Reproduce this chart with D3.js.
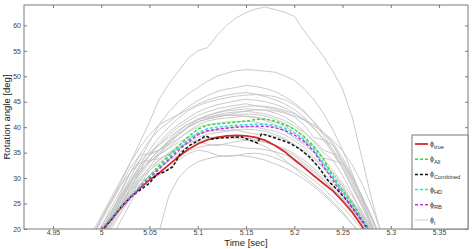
<!DOCTYPE html>
<html>
<head>
<meta charset="utf-8">
<script src="https://cdn.jsdelivr.net/npm/d3@7"></script>
<style>
  body { margin: 0; background: #fff; }
  svg { display: block; font-family: "Liberation Sans", Arial, sans-serif; }
</style>
</head>
<body>
<svg id="chart" width="474" height="249"></svg>
<script>
// common time grid for most series
var times = [4.99, 5.00, 5.01, 5.02, 5.03, 5.04, 5.05, 5.06, 5.07, 5.08, 5.09, 5.10, 5.11, 5.12, 5.13, 5.14,
             5.15, 5.16, 5.17, 5.18, 5.19, 5.20, 5.21, 5.22, 5.23, 5.24, 5.25, 5.26, 5.27, 5.28, 5.29, 5.30];

var phiTrue = [17.5, 19.6, 21.8, 24.1, 26.2, 28.0, 29.6, 31.0, 32.6, 34.2, 35.6, 36.7, 37.5, 38.0, 38.3, 38.4,
               38.3, 38.0, 37.4, 36.4, 35.2, 33.6, 32.1, 30.5, 29.0, 27.5, 25.5, 23.3, 20.6, 17.5, 14, 11];
var phiAll = [17.6, 19.8, 22.0, 24.3, 26.3, 28.3, 30.4, 32.5, 34.4, 36.3, 38.1, 39.6, 40.4, 40.6, 40.8, 41.0,
              41.2, 41.5, 41.6, 41.2, 40.5, 39.6, 38.2, 36.3, 33.8, 30.4, 27.6, 25.0, 22.0, 19.2, 15.5, 12];
var phiHD = [17.6, 19.8, 22.0, 24.2, 26.2, 28.2, 30.1, 32.1, 34.0, 35.8, 37.5, 38.9, 39.7, 40.0, 40.2, 40.4,
             40.5, 40.6, 40.6, 40.3, 39.8, 38.9, 37.6, 35.7, 32.9, 30.0, 27.2, 24.6, 21.9, 18.8, 15.3, 12];
var phiRB = [17.5, 19.7, 21.8, 24.0, 26.0, 28.0, 29.9, 31.8, 33.6, 35.4, 37.1, 38.5, 39.3, 39.6, 39.8, 40.0,
             40.1, 40.2, 40.2, 39.9, 39.4, 38.5, 37.2, 35.3, 32.4, 29.6, 26.8, 24.3, 21.6, 18.5, 15, 12];

// the combined estimate has its own (irregular) time stamps
var combinedT = [4.99, 5.00, 5.01, 5.02, 5.03, 5.04, 5.05, 5.058, 5.065, 5.074, 5.082, 5.092, 5.100, 5.108, 5.115,
                 5.125, 5.135, 5.145, 5.155, 5.162, 5.166, 5.175, 5.186, 5.195, 5.205, 5.215, 5.225, 5.235, 5.245,
                 5.255, 5.265, 5.275, 5.285];
var combinedV = [17.3, 19.5, 21.7, 24.2, 26.2, 27.6, 29.0, 30.8, 31.2, 32.2, 34.8, 36.5, 37.3, 38.3, 37.7,
                 37.9, 38.0, 38.1, 37.4, 36.9, 38.7, 38.2, 37.5, 36.9, 35.8, 34.3, 32.2, 29.5, 27.6,
                 25.5, 23.0, 20.4, 17.5];

// individual estimates phi_i
var phiI = [
  [18, 22, 25.5, 29, 33, 37, 41, 45.5, 48.5, 51, 53.5, 55, 55.6, 58, 60, 61.5, 62.5, 63.2, 63.6, 63.1, 62.6, 61.8, 59, 56.5, 54, 51, 47.5, 42, 34, 26, 19, 12],
  [17, 20, 23, 26.5, 30, 33.5, 37, 40.5, 43, 45, 46.5, 47.8, 49, 50, 50.6, 51.1, 51.3, 51.2, 51, 50.8, 50.1, 49.2, 47.6, 45.5, 42.8, 39.5, 35.5, 31, 26, 21, 16, 11],
  [16, 19.5, 23, 27, 31, 34.5, 37.5, 39.5, 41, 42.5, 44, 45.2, 46.2, 47, 47.5, 47.8, 48.2, 48.0, 47.6, 47, 46, 44.8, 43.2, 41, 38.5, 35.5, 32, 28.5, 24.5, 20.5, 16, 12],
  [19, 22.5, 26, 29.5, 33, 36, 38.5, 40.5, 41.5, 42.5, 43.5, 44.5, 45.3, 45.9, 46.3, 46.6, 46.8, 46.5, 46.0, 45.4, 44.6, 43.5, 42, 40, 37.5, 35, 32.5, 29, 25, 21, 17, 13],
  [15, 18, 21, 24.5, 28, 31.5, 34.5, 37, 39, 40.5, 41.8, 43, 43.8, 44.4, 44.8, 45.2, 45.5, 45.3, 45.0, 44.5, 43.8, 42.8, 41.5, 39.8, 37.8, 35.5, 33, 30, 26.5, 22.5, 18, 13],
  [17, 20.5, 24, 27.5, 31, 33.5, 35, 36.5, 38.5, 40, 41.2, 42.3, 43, 43.6, 44, 44.3, 44.6, 44.2, 43.9, 43.5, 43, 42, 40.5, 38, 37.5, 36.5, 33, 29.5, 25.5, 21, 16.5, 12],
  [16.5, 19.5, 22.5, 25.5, 28.5, 31, 33.5, 35.5, 37.5, 39.2, 40.6, 41.6, 42.3, 42.8, 43.2, 43.4, 43.6, 43.5, 43.3, 42.8, 42, 40.8, 39.2, 37.2, 35, 33.5, 30.5, 27, 23, 19.5, 15.5, 11],
  [18, 21.5, 25, 28.5, 32, 34.5, 34.8, 35.5, 37, 38.5, 40, 41, 41.8, 42.4, 42.8, 43.0, 43.1, 42.9, 42.6, 42, 41.3, 40.2, 39, 37.5, 35.5, 34.8, 32, 28, 24.5, 20.5, 16, 12],
  [15.5, 18.5, 21.5, 24.5, 27.5, 30.5, 33, 35, 36.8, 38.5, 40, 41, 41.6, 42, 42.3, 42.4, 42.6, 42.5, 42.2, 41.6, 40.8, 39.6, 38, 36, 33.8, 31.5, 29, 26.5, 23.5, 20, 16, 12],
  [17, 20, 23, 26, 29, 31.5, 33.2, 34.6, 36, 37.6, 39.2, 40.4, 41.2, 41.6, 41.8, 42, 42.2, 42.0, 41.6, 41, 40.2, 39, 37.5, 35.5, 33.2, 31, 28.5, 25.5, 22.5, 19.5, 16, 12],
  [16, 19, 22.5, 26, 29.5, 32.5, 34.5, 35.5, 36.5, 37.8, 39, 40, 40.5, 40.8, 41, 41.1, 41.2, 41.0, 40.6, 40, 39.2, 38, 36.6, 35, 33, 30.8, 28.2, 25.3, 22.4, 19.5, 16.5, 13],
  [12, 15, 18, 21.5, 25, 28.5, 31.5, 33.5, 35, 36.4, 37.6, 38.6, 39.2, 39.6, 39.9, 40.1, 40.2, 40.0, 39.6, 39.2, 38.5, 37.4, 36, 34.2, 32.2, 30, 27.6, 25, 22.5, 20, 17.5, 15],
  [18.5, 22, 25.5, 28.5, 31, 33, 33.5, 33.8, 34.6, 35.8, 37, 38, 38.6, 38.9, 39.2, 39.4, 39.0, 38.6, 38.6, 38.2, 37.6, 36.6, 35.4, 33.8, 32, 30, 27.8, 25.5, 23, 20.5, 17.5, 14],
  [15, 18, 21, 24, 27, 29.5, 31.5, 33, 34.5, 35.8, 36.8, 37.5, 37.9, 38.1, 38.2, 38.1, 37.9, 37.6, 37.1, 36.4, 35.5, 34.4, 33, 31.5, 29.8, 28, 26, 23.8, 21.5, 19, 16.5, 14],
  [14, 17, 20, 23, 26, 28.5, 30.5, 32, 33.4, 34.5, 35.3, 36, 36.4, 36.6, 36.5, 36.2, 35.9, 35.8, 35.6, 35.2, 34.6, 33.8, 32.6, 31.2, 29.6, 27.8, 25.8, 23.6, 21.2, 18.8, 16.2, 13.5],
  [16, 19, 22, 25, 27.5, 29.5, 30, 30.5, 31.8, 33.5, 34.8, 35.5, 35.2, 34.5, 34.2, 34.4, 34.8, 34.9, 34.6, 34, 33.2, 32.2, 31, 29.6, 28, 26.2, 24.3, 22.2, 20, 17.6, 15, 12],
  [8, 9, 10, 11, 12, 13, 14, 19.5, 26.5, 30, 32, 33.2, 33.8, 34.2, 34.4, 34.5, 34.3, 34, 33.5, 32.8, 32, 31, 29.8, 28.4, 26.8, 25, 23, 21, 19, 17, 15, 13],
  [17, 19.5, 22, 24.5, 26.8, 28.8, 30.5, 32, 33.6, 35, 36.2, 37, 37.5, 37.8, 37.9, 37.8, 37.5, 37, 36.2, 35, 33.6, 32, 30.4, 28.8, 27.2, 25.4, 23.4, 21, 18.5, 16, 13.5, 11],
  [16, 19, 22, 25, 28, 31, 33.5, 35.5, 37.2, 38.8, 40, 41, 41.6, 42, 42.4, 42.8, 43.2, 43.4, 43.4, 43.2, 42.8, 42.2, 41.4, 40.4, 39, 37, 34, 30.5, 26.5, 22, 17.5, 13],
  [16, 19, 22, 25.5, 29, 32, 34.5, 36.5, 38, 39.4, 40.6, 41.5, 42, 42.3, 42.4, 42.3, 42.1, 41.8, 41.3, 40.5, 39.4, 38, 36.9, 36.5, 34, 33.4, 33, 30, 26, 22, 18, 14],
  [15.5, 18.5, 21.5, 24.5, 27.5, 30, 32, 33.6, 34.8, 36, 37, 37.4, 36.6, 36.4, 36.8, 37.2, 37.4, 37.3, 37, 36.5, 35.8, 34.8, 33.5, 32, 30.3, 28.5, 26.5, 24.2, 21.8, 19.2, 16.5, 13.5],
  [17.5, 20.5, 23.5, 26.5, 29.2, 31.5, 33.2, 34.6, 35.8, 37, 38, 38.7, 39.1, 39.3, 39.4, 39.5, 39.6, 39.5, 39.2, 38.6, 37.8, 36.6, 35, 33.2, 31.2, 29, 26.6, 24, 21.2, 18.5, 15.5, 12.5],
  [14.5, 17.5, 20.5, 23.5, 26.5, 29.5, 32.2, 34.6, 36.8, 38.6, 40.2, 41.4, 42.3, 42.9, 43.4, 43.8, 44.1, 44.2, 44.1, 43.8, 43.3, 42.6, 41.6, 40.4, 39, 37.4, 35.4, 32.6, 29, 24.5, 19.5, 14.5],
  [15, 18.5, 22, 25.5, 29, 32.5, 35.5, 38, 40, 41.8, 43.2, 44.2, 44.9, 45.4, 45.8, 46.1, 46.3, 46.4, 46.3, 46.0, 45.4, 44.4, 43, 41.2, 39, 36.5, 33.5, 30.2, 26.5, 22.5, 18, 13.5]
];

var xTicks = [4.95, 5, 5.05, 5.1, 5.15, 5.2, 5.25, 5.3, 5.35];
var yTicks = [20, 25, 30, 35, 40, 45, 50, 55, 60];
var legendSubs = ["true", "All", "Combined", "HD", "RB", "i"];

function draw() {
    var svg = d3.select("#chart");
    var pl = 24, pr = 468, pt = 5, pb = 229;

    var x = d3.scaleLinear().domain([4.92, 5.38]).range([pl, pr]);
    var y = d3.scaleLinear().domain([20, 64]).range([pb, pt]);

    svg.append("clipPath").attr("id", "plotclip")
        .append("rect").attr("x", pl).attr("y", pt)
        .attr("width", pr - pl).attr("height", pb - pt);

    var plot = svg.append("g").attr("clip-path", "url(#plotclip)");

    var line = d3.line()
        .x(function(d) { return x(d[0]); })
        .y(function(d) { return y(d[1]); });

    function onGrid(vals) {
        return vals.map(function(v, i) { return [times[i], v]; });
    }

    // gray individual curves first
    plot.selectAll("path.gi")
        .data(phiI)
        .enter()
        .append("path")
        .attr("class", "gi")
        .attr("d", function(d) { return line(onGrid(d)); })
        .attr("fill", "none")
        .attr("stroke", "#c4c4c4")
        .attr("stroke-width", 0.9);

    var series = [
        { vals: onGrid(phiTrue), color: "#d42a2a", dash: null, w: 1.8 },
        { vals: onGrid(phiAll), color: "#33dd33", dash: "3,2", w: 1.5 },
        { vals: combinedT.map(function(t, i) { return [t, combinedV[i]]; }), color: "#111111", dash: "3,2", w: 1.5 },
        { vals: onGrid(phiHD), color: "#33dddd", dash: "3,2", w: 1.5 },
        { vals: onGrid(phiRB), color: "#c030e0", dash: "3,2", w: 1.5 }
    ];

    plot.selectAll("path.main")
        .data(series)
        .enter()
        .append("path")
        .attr("class", "main")
        .attr("d", function(d) { return line(d.vals); })
        .attr("fill", "none")
        .attr("stroke", function(d) { return d.color; })
        .attr("stroke-width", function(d) { return d.w; })
        .attr("stroke-dasharray", function(d) { return d.dash; });

    // axes, MATLAB style: box with inward ticks on all sides
    var fmt = function(d) { return String(+d.toFixed(2)); };
    var axisColor = "#7a7a7a";

    function styleAxis(g) {
        g.select(".domain").remove();
        g.selectAll(".tick line").attr("stroke", axisColor);
        g.selectAll(".tick text").attr("fill", "#444").style("font-size", "7px");
    }

    svg.append("g").attr("transform", "translate(0," + pb + ")")
        .call(d3.axisBottom(x).tickValues(xTicks).tickFormat(fmt).tickSize(-3).tickPadding(1))
        .call(styleAxis);
    svg.append("g").attr("transform", "translate(0," + pt + ")")
        .call(d3.axisTop(x).tickValues(xTicks).tickFormat("").tickSize(-3))
        .call(styleAxis);
    svg.append("g").attr("transform", "translate(" + pl + ",0)")
        .call(d3.axisLeft(y).tickValues(yTicks).tickFormat(d3.format("d")).tickSize(-3).tickPadding(3))
        .call(styleAxis);
    svg.append("g").attr("transform", "translate(" + pr + ",0)")
        .call(d3.axisRight(y).tickValues(yTicks).tickFormat("").tickSize(-3))
        .call(styleAxis);

    svg.append("rect")
        .attr("x", pl).attr("y", pt)
        .attr("width", pr - pl).attr("height", pb - pt)
        .attr("fill", "none").attr("stroke", axisColor).attr("stroke-width", 1);

    svg.append("text")
        .attr("x", (pl + pr) / 2).attr("y", 245.5)
        .attr("text-anchor", "middle")
        .style("font-size", "9.5px").attr("fill", "#222")
        .text("Time [sec]");

    svg.append("text")
        .attr("transform", "translate(10," + ((pt + pb) / 2) + ") rotate(-90)")
        .attr("text-anchor", "middle")
        .style("font-size", "9.5px").attr("fill", "#222")
        .text("Rotation angle [deg]");

    // legend
    var legX = 412, legY = 135;
    var leg = svg.append("g");
    leg.append("rect")
        .attr("x", legX).attr("y", legY)
        .attr("width", pr - legX).attr("height", pb - legY)
        .attr("fill", "#fff").attr("stroke", axisColor).attr("stroke-width", 1);

    var legItems = series.map(function(s) { return { color: s.color, dash: s.dash, w: s.w }; });
    legItems.push({ color: "#c4c4c4", dash: null, w: 0.9 });

    var rows = leg.selectAll("g.row")
        .data(legItems)
        .enter()
        .append("g")
        .attr("class", "row")
        .attr("transform", function(d, i) { return "translate(0," + (legY + 9 + i * 15.2) + ")"; });

    rows.append("line")
        .attr("x1", legX + 3).attr("x2", legX + 16)
        .attr("y1", 0).attr("y2", 0)
        .attr("stroke", function(d) { return d.color; })
        .attr("stroke-width", function(d) { return d.w; })
        .attr("stroke-dasharray", function(d) { return d.dash; });

    var lt = rows.append("text")
        .attr("x", legX + 18).attr("y", 2)
        .attr("fill", "#333")
        .style("font-size", "7px");
    lt.append("tspan").text("\u03d5");
    lt.append("tspan")
        .attr("dy", 2.5)
        .style("font-size", "5.8px")
        .text(function(d, i) { return legendSubs[i]; });
}

draw();
</script>
</body>
</html>
